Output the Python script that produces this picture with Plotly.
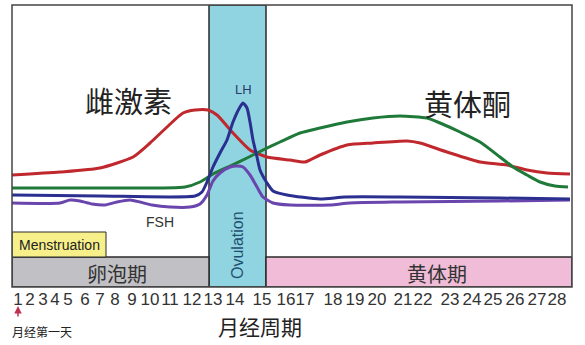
import plotly.graph_objects as go

# ---- data (axis units: x = position along cycle axis, y = relative hormone level) ----
days = list(range(1, 29))
day_tick_pos = [0.3, 0.9, 1.55, 2.15, 2.8, 3.65, 4.4, 5.15, 6.0, 6.9, 7.9, 9.0, 10.05, 11.15,
                12.5, 13.7, 14.65, 16.05, 17.15, 18.25, 19.55, 20.55, 21.9, 23.0, 24.05, 25.15,
                26.25, 27.25]

estrogen_x = [0, 2.4, 4.4, 6.05, 6.9, 7.75, 8.55, 9.15, 9.8, 10.25, 11.05, 11.9, 12.75, 13.9,
              14.65, 15.4, 16.75, 18.05, 19.75, 20.4, 21.75, 23.4, 24.75, 25.75, 26.75, 27.9]
estrogen_y = [112, 115, 119, 130, 144, 160, 174, 177, 177, 172, 154, 137, 130, 127,
              125, 132, 142, 144, 146, 144, 135, 125, 122, 117, 114, 113]

progesterone_x = [0, 4.4, 8.65, 9.4, 10.05, 10.9, 11.75, 12.55, 13.4, 14.4, 15.4, 16.75, 18.05,
                  19.4, 20.75, 21.4, 22.4, 23.4, 24.4, 25.05, 25.75, 26.4, 27.15, 27.8]
progesterone_y = [99, 99, 100, 105, 113, 121, 129, 137, 145, 154, 159, 165, 169,
                  171, 169, 164, 155, 145, 130, 120, 112, 105, 101, 100]

lh_x = [0, 4.4, 9.15, 9.5, 9.75, 10.05, 10.4, 10.75, 11.05, 11.4, 11.55, 11.75, 11.9, 12.05,
        12.25, 12.4, 12.75, 13.05, 13.75, 15.4, 16.65, 19.4, 24.4, 27.9]
lh_y = [92, 91, 91, 95, 105, 120, 134, 147, 165, 180, 184, 179, 165, 147,
        130, 117, 104, 96, 92, 88, 90, 90, 89, 88]

fsh_x = [0, 2.4, 2.9, 3.4, 4.0, 4.65, 5.25, 5.9, 6.4, 7.0, 7.9, 8.9, 9.4, 9.75, 10.05, 10.4,
         10.9, 11.25, 11.55, 11.9, 12.25, 12.55, 13.05, 13.9, 15.9, 16.9, 19.4, 24.4, 27.9]
fsh_y = [84, 84, 87, 86, 83, 82, 85, 87, 85, 82, 80, 80, 83, 92, 106, 114,
         120, 121, 120, 112, 100, 90, 84, 82, 82, 84, 85, 86, 87]

# ---- layout constants ----
X_MAX, Y_MAX = 28, 282
OV_START, OV_END = 9.85, 12.7
PHASE_TOP = 30
MENS_END, MENS_TOP = 4.7, 55

EDGE = "#2a2a2a"
fig = go.Figure()

series = [
    (estrogen_x, estrogen_y, "#c0282d"),
    (progesterone_x, progesterone_y, "#1f7a3a"),
    (fsh_x, fsh_y, "#6a45ad"),
    (lh_x, lh_y, "#2b2f8f"),
]
for xs, ys, col in series:
    fig.add_trace(go.Scatter(x=xs, y=ys, mode="lines",
                             line=dict(color=col, width=3, shape="spline", smoothing=0.6),
                             hoverinfo="skip", showlegend=False))

shapes = [
    dict(type="rect", xref="x", yref="y", x0=OV_START, x1=OV_END, y0=0, y1=Y_MAX,
         fillcolor="#8fd4e0", line=dict(color=EDGE, width=1.5), layer="below"),
    dict(type="rect", xref="x", yref="y", x0=0, x1=OV_START, y0=0, y1=PHASE_TOP,
         fillcolor="#c1c0c4", line=dict(color=EDGE, width=1.5), layer="below"),
    dict(type="rect", xref="x", yref="y", x0=OV_END, x1=X_MAX, y0=0, y1=PHASE_TOP,
         fillcolor="#f0bcd8", line=dict(color=EDGE, width=1.5), layer="below"),
    dict(type="rect", xref="x", yref="y", x0=0, x1=MENS_END, y0=PHASE_TOP, y1=MENS_TOP,
         fillcolor="#f7f08a", line=dict(color=EDGE, width=1), layer="below"),
    dict(type="rect", xref="paper", yref="paper", x0=0, x1=1, y0=0, y1=1,
         fillcolor="rgba(0,0,0,0)", line=dict(color="#444", width=1.5), layer="above"),
]

CJK = "Noto Sans CJK SC"
LAT = "Liberation Sans, Arial"
ann = [
    dict(x=5.8, y=187, text="雌激素", font=dict(family=CJK, size=29, color="#222")),
    dict(x=22.75, y=184, text="黄体酮", font=dict(family=CJK, size=29, color="#222")),
    dict(x=11.55, y=198, text="LH", font=dict(family=LAT, size=13, color="#2b3a6b")),
    dict(x=7.4, y=65, text="FSH", font=dict(family=LAT, size=14, color="#333")),
    dict(x=11.25, y=42, text="Ovulation", textangle=-90,
         font=dict(family=LAT, size=16, color="#1f4f70")),
    dict(x=2.35, y=42.5, text="Menstruation", font=dict(family=LAT, size=14, color="#222")),
    dict(x=5.25, y=14, text="卵泡期", font=dict(family=CJK, size=20, color="#333")),
    dict(x=21.25, y=14, text="黄体期", font=dict(family=CJK, size=20, color="#333")),
]
for a in ann:
    a.update(xref="x", yref="y", showarrow=False)

# texts below the axis (paper-referenced vertically so they are not hidden)
below = [
    dict(x=12.4, y=-39 / Y_MAX, text="月经周期", showarrow=False,
         font=dict(family=CJK, size=21, color="#222")),
    dict(x=1.5, y=-44 / Y_MAX, text="月经第一天", showarrow=False,
         font=dict(family=CJK, size=12, color="#222")),
    dict(x=0.3, y=-19 / Y_MAX, text="", showarrow=True, ax=0, ay=12, arrowhead=2,
         arrowsize=1, arrowwidth=1.5, arrowcolor="#c03050"),
]
for a in below:
    a.update(xref="x", yref="paper", xanchor="center", yanchor="middle")
ann += below

fig.update_layout(
    width=585, height=345,
    margin=dict(l=12, r=13, t=5, b=58),
    paper_bgcolor="white", plot_bgcolor="white",
    shapes=shapes, annotations=ann,
    xaxis=dict(range=[0, X_MAX], tickvals=day_tick_pos, ticktext=[str(d) for d in days],
               showgrid=False, zeroline=False, showline=False, ticks="",
               tickfont=dict(family="Liberation Sans Narrow, Liberation Sans, Arial", size=17,
                             color="#333"), tickangle=0, fixedrange=True),
    yaxis=dict(range=[0, Y_MAX], visible=False, fixedrange=True),
)

fig.write_html("out.html")
